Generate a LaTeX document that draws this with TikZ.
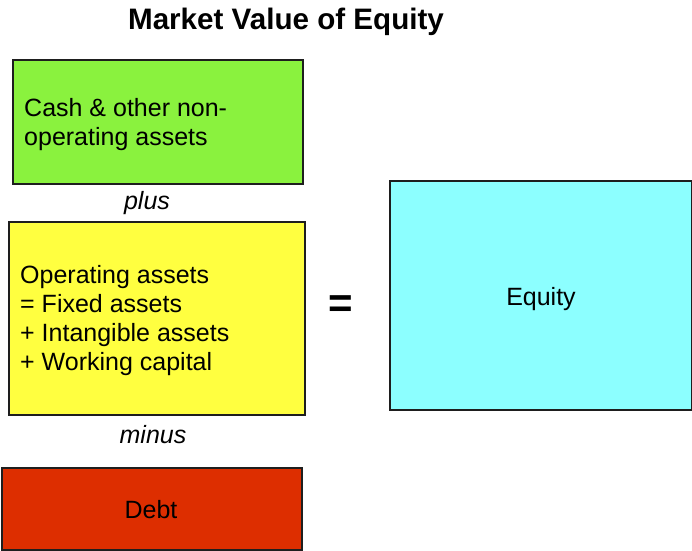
\documentclass[tikz,border=0pt]{standalone}
\usepackage{fontspec}
\setmainfont{Liberation Sans}
\definecolor{cashgreen}{RGB}{138,242,62}
\definecolor{opyellow}{RGB}{255,255,64}
\definecolor{eqcyan}{RGB}{140,255,255}
\definecolor{debtred}{RGB}{221,46,0}
\definecolor{edge}{RGB}{30,30,30}
\begin{document}
\begin{tikzpicture}[x=1pt,y=-1pt,
  box/.style={draw=edge,line width=1.7pt,inner sep=0pt,anchor=north west},
  txt/.style={font=\fontsize{25}{29}\selectfont,inner sep=0pt},
  op/.style={font=\fontsize{25}{29}\selectfont\itshape,inner sep=0pt,anchor=base}]
\useasboundingbox (0,0) rectangle (692,550);
\node[font=\fontsize{29.6}{34}\selectfont\bfseries,anchor=base,inner sep=0pt] (title) at (286,29) {Market Value of Equity};
\node[box,fill=cashgreen,minimum width=290pt,minimum height=124pt] (cash) at (12,59) {};
\node[txt,anchor=base west] (cashA) at (24,116) {Cash \& other non-};
\node[txt,anchor=base west] (cashB) at (24,145) {operating assets};
\node[op] (plus) at (147,209) {plus};
\node[box,fill=opyellow,minimum width=296pt,minimum height=193pt] (oper) at (8,221) {};
\node[txt,anchor=base west] (op1) at (20,283) {Operating assets};
\node[txt,anchor=base west] (op2) at (20,312) {= Fixed assets};
\node[txt,anchor=base west] (op3) at (20,341) {+ Intangible assets};
\node[txt,anchor=base west] (op4) at (20,370) {+ Working capital};
\node[op] (minus) at (153,443) {minus};
\node[box,fill=debtred,minimum width=300pt,minimum height=82pt] (debt) at (1,467) {};
\node[txt,anchor=base] (debtT) at (151,518) {Debt};
\node[font=\fontsize{42}{46}\selectfont\bfseries,inner sep=0pt] (eq) at (341,307) {=};
\node[box,fill=eqcyan,minimum width=302pt,minimum height=229pt] (equity) at (389,180) {};
\node[txt,anchor=base] (equityT) at (541,305) {Equity};
\end{tikzpicture}
\end{document}
